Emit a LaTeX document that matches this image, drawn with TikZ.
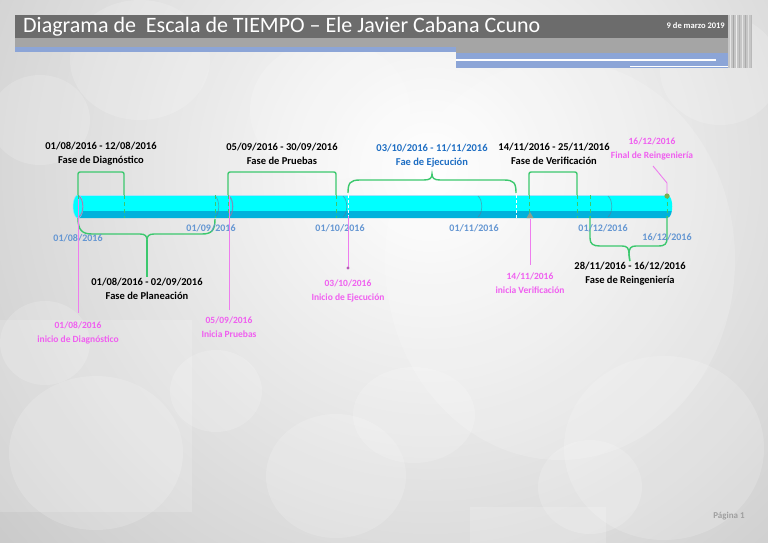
\documentclass[tikz,border=0pt]{standalone}
\usepackage{fontspec}
\setmainfont{Carlito}
\definecolor{grn}{RGB}{60,200,110}
\definecolor{pnk}{RGB}{240,95,240}
\definecolor{pnkl}{RGB}{238,125,238}
\definecolor{pnkd}{RGB}{180,90,180}
\definecolor{dotg}{RGB}{120,175,80}
\definecolor{trig}{RGB}{140,160,140}
\definecolor{axb}{RGB}{100,150,210}
\definecolor{ejb}{RGB}{30,110,195}
\definecolor{cyanb}{RGB}{0,255,255}
\definecolor{deepb}{RGB}{0,178,220}
\definecolor{hdr}{RGB}{108,108,108}
\definecolor{hdrl}{RGB}{165,165,165}
\definecolor{hblue}{RGB}{140,165,215}
\definecolor{bggray}{RGB}{196,196,196}
\definecolor{arcg}{RGB}{110,110,140}
\definecolor{capc}{RGB}{160,130,180}
\definecolor{prc}{RGB}{150,120,170}
\begin{document}
\begin{tikzpicture}[x=1pt,y=-1pt,
  blk/.style={font=\bfseries\fontsize{10.5}{14}\selectfont, align=center, text=black, inner sep=1pt},
  ejc/.style={blk, text=ejb},
  pk/.style={font=\bfseries\fontsize{9.5}{14}\selectfont, align=center, text=pnk, inner sep=1pt},
  ax/.style={font=\bfseries\fontsize{10}{12}\selectfont, text=axb, inner sep=1pt},
  pkline/.style={draw=pnkl, line width=0.9pt},
  grline/.style={draw=grn, line width=1.4pt, rounded corners=2pt},
  grbrace/.style={draw=grn, line width=1.4pt},
  grdash/.style={draw=grn, line width=1pt, dash pattern=on 4pt off 3pt},
  wdash/.style={draw=white, line width=0.8pt, dash pattern=on 3pt off 2pt},
  marc/.style={draw=arcg, line width=0.7pt, opacity=0.55},
  bgc/.style={fill=white, opacity=0.17},
]
\useasboundingbox (0,0) rectangle (768,543);
% background
\begin{scope}
\clip (0,0) rectangle (768,543);
\shade[inner color=white, outer color=bggray] (430,170) circle (640pt);
\fill[bgc] (0,320) rectangle (192,512);
\fill[bgc] (470,507) rectangle (606,543);
\fill[bgc] (45,343) ellipse (45pt and 42pt);
\fill[bgc] (96,453) ellipse (87pt and 77pt);
\fill[bgc] (216,391) ellipse (46pt and 41pt);
\fill[bgc] (336,476) ellipse (70pt and 62pt);
\fill[bgc] (414,415) ellipse (61pt and 48pt);
\fill[bgc] (664,448) ellipse (100pt and 92pt);
\fill[bgc] (590,487) ellipse (52pt and 47pt);
\fill[bgc] (560,260) ellipse (175pt and 200pt);
\fill[bgc] (140,60) ellipse (70pt and 60pt);
\fill[bgc] (330,110) ellipse (80pt and 70pt);
\fill[bgc] (720,70) ellipse (60pt and 55pt);
\fill[bgc] (40,120) ellipse (50pt and 45pt);
\end{scope}
% header
\fill[hdrl] (15,38) rectangle (456,47);
\fill[hblue] (15,47) rectangle (456,52);
\fill[hdrl] (456,38) rectangle (752,53);
\fill[hblue] (456,53) rectangle (752,68);
\draw[white, line width=1.2pt] (456,60) -- (716,60);
\draw[white, line width=1pt] (630,67) -- (740,67);
\fill[hdr] (15,15) rectangle (728,38);
\fill[gray!45] (728,15) rectangle (752,68);
\foreach \x/\c in {730/gray!20, 733/gray!70, 736/gray!15, 739/gray!60, 742/gray!20, 745/gray!65, 748/gray!25, 751/gray!55}
  \draw[\c, line width=0.8pt] (\x,15) -- (\x,68);
\node[anchor=west, text=white, font=\fontsize{22}{24}\selectfont, inner sep=0pt] (title) at (23,27) {Diagrama de\ \ Escala de TIEMPO – Ele Javier Cabana Ccuno};
\node[anchor=east, text=white, font=\bfseries\fontsize{8.5}{10}\selectfont, inner sep=0pt] (fecha) at (725,26) {9 de marzo 2019};
\node[text=gray!75, font=\bfseries\fontsize{9}{10}\selectfont] (pagina) at (729,516) {Página 1};
% bar
\begin{scope}
\clip (78,195) -- (667,195) .. controls (674,195) and (674,218) .. (667,218) -- (78,218) .. controls (72,218) and (72,195) .. (78,195);
\fill[cyanb] (60,190) rectangle (690,210.5);
\fill[white] (60,210.5) rectangle (690,211.2);
\fill[deepb] (60,211.2) rectangle (690,225);
\end{scope}
\draw[cyan!35!white, line width=0.6pt] (78,195.3) -- (667,195.3);
\draw[fill=cyanb, draw=cyan!40!white, line width=0.5pt] (78,206.5) ellipse (5pt and 11.5pt);
\draw[draw=capc, line width=1pt] (78,195.5) .. controls (84.5,198) and (84.5,215) .. (78,217.5);
\foreach \x in {215,343,478,608}
  \draw[marc] (\x,196) .. controls ({\x+5},200) and ({\x+5},213) .. (\x,217);
\draw[draw=prc, line width=1.1pt, opacity=0.8] (229,196) .. controls (234,200) and (234,213) .. (229,217);
% dashed markers
\foreach \x in {78,124,215,228,336,529,577,590,667}
  \draw[grdash] (\x,195) -- (\x,218);
\foreach \x in {348,516}
  \draw[wdash] (\x,195) -- (\x,218);
% coordinates on the bar
\coordinate (gA1) at (78,195);  \coordinate (gA2) at (124,195);
\coordinate (gP1) at (228,195); \coordinate (gP2) at (336,195);
\coordinate (gV1) at (529,195); \coordinate (gV2) at (577,195);
% brackets above
\draw[grline] (gA1) -- ++(0,-23) -| (gA2);
\draw[grline] (gP1) -- ++(0,-23) -| (gP2);
\draw[grline] (gV1) -- ++(0,-23) -| (gV2);
% brace Ejecucion
\draw[grbrace] (348,193) .. controls (348,183) and (350,180) .. (360,180) -- (424,180) .. controls (430,180) and (432,178) .. (432,174) .. controls (432,178) and (434,180) .. (440,180) -- (504,180) .. controls (514,180) and (516,183) .. (516,193);
% brace Planeacion
\coordinate (tipPl) at (147,240);
\draw[grbrace] (78,218) .. controls (78,230) and (82,234) .. (92,234) -- (140,234) .. controls (145,234) and (147,236) .. (tipPl) .. controls (147,236) and (149,234) .. (154,234) -- (202,234) .. controls (212,234) and (215,230) .. (215,219);
% brace Reingenieria
\coordinate (tipRe) at (629,254);
\draw[grbrace] (590,216) -- (590,238) .. controls (590,244) and (593,246) .. (600,246) -- (622,246) .. controls (627,246) and (629,248) .. (tipRe) .. controls (629,248) and (631,246) .. (636,246) -- (658,246) .. controls (665,246) and (667,244) .. (667,238) -- (667,216);
% phase labels
\node[blk] (diag) at (101,154) {01/08/2016 - 12/08/2016\\Fase de Diagnóstico};
\node[blk] (prue) at (282,154) {05/09/2016 - 30/09/2016\\Fase de Pruebas};
\node[ejc] (ejec) at (432,155.5) {03/10/2016 - 11/11/2016\\Fae de Ejecución};
\node[blk] (veri) at (554,154) {14/11/2016 - 25/11/2016\\Fase de Verificación};
\node[blk] (plan) at (147,288.5) {01/08/2016 - 02/09/2016\\Fase de Planeación};
\node[blk] (rein) at (630,274) {28/11/2016 - 16/12/2016\\Fase de Reingeniería};
\draw[grn, line width=1.4pt] (tipPl) -- (plan.north);
\draw[grn, line width=1.4pt] (tipRe) -- (rein.north);
% axis labels
\node[ax] (m1) at (78,238) {01/08/2016};
\node[ax] (m2) at (211,228) {01/09/2016};
\node[ax] (m3) at (340,228) {01/10/2016};
\node[ax] (m4) at (474,228) {01/11/2016};
\node[ax] (m5) at (603,228) {01/12/2016};
\node[ax] (m6) at (667,237) {16/12/2016};
% pink milestones
\node[pk] (k1) at (78,333) {01/08/2016\\inicio de Diagnóstico};
\node[pk] (k2) at (229,327.5) {05/09/2016\\Inicia Pruebas};
\node[pk] (k3) at (348,290.5) {03/10/2016\\Inicio de Ejecución};
\node[pk] (k4) at (530,283) {14/11/2016\\inicia Verificación};
\node[pk] (k5) at (652,149) {16/12/2016\\Final de Reingeniería};
\coordinate (q1) at (78,199);
\coordinate (q2) at (229,196);
\coordinate (q3) at (348,216);
\coordinate (q4) at (530,219);
\coordinate (q5) at (667,196);
\coordinate (e1) at (78,313);
\coordinate (e2) at (229,310);
\coordinate (e3) at (348,268);
\coordinate (e4) at (530,265);
\coordinate (e5a) at (653,166);
\coordinate (e5b) at (667,183);
\draw[pkline] (q1) -- (e1);
\draw[pkline] (q2) -- (e2);
\draw[pkline] (q3) -- (e3);
\draw[pkline] (q4) -- (e4);
\draw[pkline] (e5a) -- (e5b) -- (q5);
\fill[pnkd] (e3) circle (1.6pt);
\fill[dotg] (q5) circle (2.6pt);
\fill[trig] (530,212) -- (533.5,218) -- (526.5,218) -- cycle;
\end{tikzpicture}
\end{document}
